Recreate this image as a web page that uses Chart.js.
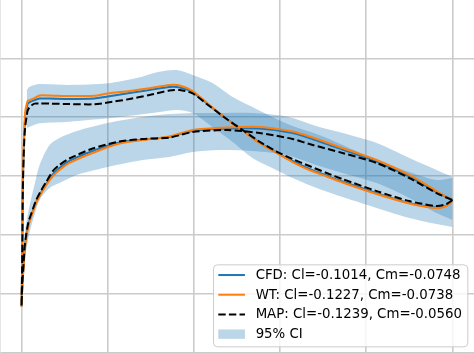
<!DOCTYPE html>
<html><head><meta charset="utf-8">
<script src="https://cdn.jsdelivr.net/npm/chart.js@4.4.1/dist/chart.umd.min.js"></script>
<style>html,body{margin:0;padding:0;background:#fff;}#wrap{width:474px;height:353px;position:relative;}</style>
</head><body><div id="wrap"><canvas id="c"></canvas></div>
<script>
// ---- tick positions (grid only, labels are cropped out) ----
const xTicks = [0, 0.2, 0.4, 0.6, 0.8, 1.0];
const yTicks = [-1.5, -1.0, -0.5, 0, 0.5, 1.0];

// ---- legend labels ----
const legendLabels = [
  "CFD: Cl=-0.1014, Cm=-0.0748",
  "WT: Cl=-0.1227, Cm=-0.0738",
  "MAP: Cl=-0.1239, Cm=-0.0560",
  "95% CI"
];

// ---- surface A (high plateau branch), leading edge -> trailing edge ----
const xA   = [0.000,0.001,0.002,0.003,0.005,0.007,0.009,0.012,0.014,0.019,0.030,0.042,0.065,0.111,0.169,0.200,0.251,0.297,0.343,0.367,0.397,0.436,0.476,0.513,0.552,0.592,0.629,0.668,0.708,0.745,0.824,0.900,0.963,0.986,1.000];
const mapA = [-1.105,-0.884,-0.544,-0.119,0.179,0.349,0.434,0.510,0.553,0.587,0.616,0.616,0.616,0.612,0.610,0.625,0.655,0.689,0.727,0.731,0.703,0.595,0.485,0.391,0.293,0.208,0.145,0.085,0.026,-0.026,-0.128,-0.213,-0.255,-0.238,-0.204];
const wtA  = [-1.105,-0.842,-0.459,-0.034,0.264,0.459,0.561,0.612,0.638,0.646,0.663,0.685,0.685,0.680,0.683,0.702,0.723,0.746,0.774,0.770,0.723,0.604,0.485,0.387,0.281,0.196,0.119,0.051,-0.004,-0.055,-0.153,-0.234,-0.272,-0.255,-0.213];
const cfdA = [-1.105,-0.867,-0.502,-0.077,0.221,0.408,0.519,0.578,0.612,0.629,0.646,0.659,0.659,0.655,0.659,0.676,0.706,0.731,0.757,0.753,0.714,0.599,0.485,0.391,0.285,0.200,0.128,0.060,0.004,-0.047,-0.145,-0.230,-0.268,-0.251,-0.208];

// ---- surface B (low branch), leading edge -> trailing edge ----
const xB   = [0.000,0.001,0.002,0.005,0.007,0.011,0.016,0.023,0.034,0.046,0.057,0.073,0.088,0.111,0.165,0.227,0.281,0.343,0.397,0.476,0.552,0.629,0.668,0.745,0.824,0.900,0.963,1.000];
const mapB = [-1.105,-1.003,-0.901,-0.731,-0.612,-0.493,-0.391,-0.315,-0.204,-0.119,-0.051,0.043,0.094,0.149,0.234,0.293,0.315,0.327,0.374,0.391,0.366,0.315,0.272,0.196,0.111,-0.017,-0.145,-0.204];
const wtB  = [-1.105,-1.003,-0.918,-0.765,-0.646,-0.527,-0.425,-0.340,-0.230,-0.145,-0.077,0.000,0.051,0.111,0.196,0.276,0.306,0.336,0.391,0.412,0.417,0.378,0.336,0.238,0.136,0.009,-0.128,-0.204];
const cfdB = [-1.105,-1.003,-0.910,-0.748,-0.629,-0.510,-0.408,-0.332,-0.221,-0.136,-0.068,0.017,0.068,0.128,0.213,0.285,0.310,0.332,0.383,0.404,0.404,0.366,0.323,0.225,0.123,-0.004,-0.136,-0.204];

// ---- 95% CI bands ----
const xCiA    = [0.012,0.019,0.042,0.111,0.200,0.267,0.320,0.360,0.397,0.443,0.490,0.536,0.582,0.629,0.691,0.745,0.824,0.900,0.963,1.000];
const ciAHigh = [0.731,0.759,0.782,0.774,0.788,0.833,0.887,0.901,0.859,0.791,0.672,0.587,0.502,0.425,0.349,0.264,0.136,0.034,-0.034,-0.017];
const ciALow  = [0.408,0.419,0.448,0.462,0.491,0.519,0.544,0.561,0.536,0.417,0.289,0.153,0.068,-0.017,-0.111,-0.179,-0.272,-0.357,-0.408,-0.434];
const xCiB    = [0.001,0.002,0.005,0.009,0.019,0.030,0.042,0.065,0.088,0.128,0.200,0.281,0.343,0.397,0.459,0.536,0.615,0.691,0.745,0.824,0.900,0.963,1.000];
const ciBHigh = [-0.969,-0.816,-0.629,-0.442,-0.247,-0.077,0.094,0.264,0.323,0.383,0.451,0.502,0.527,0.536,0.536,0.536,0.506,0.417,0.366,0.281,0.153,0.051,-0.009];
const ciBLow  = [-1.037,-0.986,-0.867,-0.672,-0.476,-0.332,-0.204,-0.102,-0.060,0.009,0.077,0.136,0.162,0.204,0.221,0.213,0.179,0.085,0.026,-0.060,-0.187,-0.315,-0.374];

// ---- colours ----
const cBlue = '#1f77b4', cOrange = '#ff7f0e', cMap = '#000000', cCi = 'rgba(31,119,180,0.3)';

function loop(xa, ya, xb, yb) {
  const pts = [];
  for (let i = xa.length - 1; i >= 0; i--) pts.push({x: xa[i], y: ya[i]});
  for (let i = 1; i < xb.length; i++) pts.push({x: xb[i], y: yb[i]});
  return pts;
}
function pairs(xs, ys) { return xs.map((x, i) => ({x, y: ys[i]})); }

const lineBase = {pointRadius: 0, fill: false, tension: 0.25, borderWidth: 2};

const datasets = [
  Object.assign({label: legendLabels[2], data: loop(xA, mapA, xB, mapB), borderColor: cMap, borderDash: [7.4, 3.2], order: 0}, lineBase),
  Object.assign({label: legendLabels[1], data: loop(xA, wtA, xB, wtB), borderColor: cOrange, order: 1}, lineBase),
  Object.assign({label: legendLabels[0], data: loop(xA, cfdA, xB, cfdB), borderColor: cBlue, order: 2}, lineBase),
  {label: 'ciA_hi', data: pairs(xCiA, ciAHigh), borderWidth: 0, borderColor: 'rgba(0,0,0,0)', pointRadius: 0, fill: false, tension: 0.3, order: 10},
  {label: legendLabels[3], data: pairs(xCiA, ciALow), borderWidth: 0, borderColor: 'rgba(0,0,0,0)', pointRadius: 0, fill: '-1', backgroundColor: cCi, tension: 0.3, order: 10},
  {label: 'ciB_hi', data: pairs(xCiB, ciBHigh), borderWidth: 0, borderColor: 'rgba(0,0,0,0)', pointRadius: 0, fill: false, tension: 0.3, order: 11},
  {label: legendLabels[3] + ' ', data: pairs(xCiB, ciBLow), borderWidth: 0, borderColor: 'rgba(0,0,0,0)', pointRadius: 0, fill: '-1', backgroundColor: cCi, tension: 0.3, order: 11}
];

const legendPlugin = {
  id: 'mplLegend',
  afterDraw(chart) {
    const ctx = chart.ctx, ca = chart.chartArea;
    const fs = 13.33;
    ctx.save();
    ctx.font = fs + 'px "DejaVu Sans"';
    const textW = Math.max(...legendLabels.map(t => ctx.measureText(t).width));
    const pad = 0.4 * fs, handleLen = 2 * fs, hpad = 0.8 * fs, rowH = 19.7;
    const w = pad + handleLen + hpad + textW + pad;
    const h = 82;
    const right = ca.right - 0.5 * fs, bottom = ca.bottom - 0.5 * fs;
    const left = right - w, top = bottom - h;
    ctx.beginPath();
    if (ctx.roundRect) ctx.roundRect(left + 0.5, top + 0.5, w, h, 4); else ctx.rect(left + 0.5, top + 0.5, w, h);
    ctx.fillStyle = 'rgba(255,255,255,0.8)';
    ctx.fill();
    ctx.strokeStyle = '#cccccc';
    ctx.lineWidth = 1;
    ctx.stroke();
    const hx0 = left + pad, hx1 = hx0 + handleLen, tx = hx1 + hpad;
    const styles = [
      {c: cBlue, dash: []},
      {c: cOrange, dash: []},
      {c: cMap, dash: [7.4, 3.2]},
      null
    ];
    legendLabels.forEach((t, i) => {
      const cy = top + 10.7 + i * rowH;
      const s = styles[i];
      if (s) {
        ctx.beginPath();
        ctx.setLineDash(s.dash);
        ctx.strokeStyle = s.c;
        ctx.lineWidth = 2;
        ctx.moveTo(hx0, cy);
        ctx.lineTo(hx1, cy);
        ctx.stroke();
        ctx.setLineDash([]);
      } else {
        ctx.fillStyle = cCi;
        ctx.fillRect(hx0, cy - 0.35 * fs, handleLen, 0.7 * fs);
      }
      ctx.fillStyle = '#000';
      ctx.textBaseline = 'middle';
      ctx.textAlign = 'left';
      ctx.fillText(t, tx, cy + 0.5);
    });
    ctx.restore();
  }
};

new Chart(document.getElementById('c'), {
  type: 'line',
  data: {datasets},
  options: {
    responsive: true,
    maintainAspectRatio: false,
    devicePixelRatio: 1,
    animation: false,
    events: [],
    layout: {padding: 0},
    plugins: {legend: {display: false}, tooltip: {enabled: false}, title: {display: false}},
    scales: {
      x: {
        type: 'linear', min: -0.05, max: 1.05,
        afterBuildTicks: s => { s.ticks = xTicks.map(v => ({value: v})); },
        ticks: {display: false},
        grid: {color: '#cbcbcb', lineWidth: 1.6, drawTicks: false, tickLength: 0},
        border: {display: false}
      },
      y: {
        type: 'linear', min: -1.505, max: 1.497,
        afterBuildTicks: s => { s.ticks = yTicks.map(v => ({value: v})); },
        ticks: {display: false},
        grid: {color: '#cbcbcb', lineWidth: 1.6, drawTicks: false, tickLength: 0},
        border: {display: true, color: '#cbcbcb', width: 1.5}
      }
    }
  },
  plugins: [legendPlugin]
});
</script>
</body></html>
